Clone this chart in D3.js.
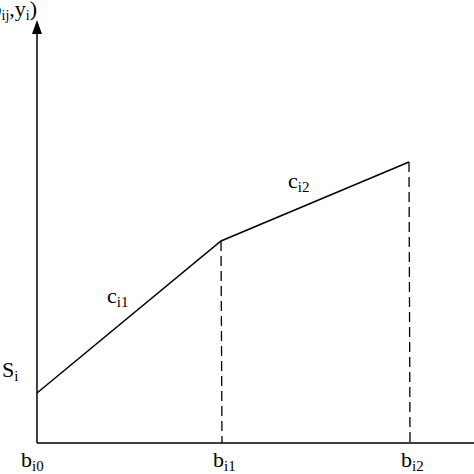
<!DOCTYPE html>
<html>
<head>
<meta charset="utf-8">
<script src="https://cdn.jsdelivr.net/npm/d3@7"></script>
<style>
  body { margin: 0; background: #fff; }
  text { font-family: "Liberation Serif", "Times New Roman", serif; fill: #000; }
</style>
</head>
<body>
<div id="chart"></div>
<script>
// breakpoints (b_i0, b_i1, b_i2) and cumulative values at them
var breaks = [0, 184, 372];
var values = [50, 202, 281];
var breakLabels = ["i0", "i1", "i2"];
var slopeLabels = ["i1", "i2"];

var width = 474, height = 474;
var margin = { top: 20, right: 0, bottom: 31, left: 37 };

var svg = d3.select("#chart")
    .append("svg")
    .attr("width", width)
    .attr("height", height);

var x = d3.scaleLinear()
    .domain([0, width - margin.left - margin.right])
    .range([margin.left, width - margin.right]);

var y = d3.scaleLinear()
    .domain([0, height - margin.top - margin.bottom])
    .range([height - margin.bottom, margin.top]);

// axes
svg.append("line")
    .attr("x1", x(0)).attr("y1", y(0))
    .attr("x2", width).attr("y2", y(0))
    .attr("stroke", "#000").attr("stroke-width", 1.5);

svg.append("line")
    .attr("x1", x(0)).attr("y1", y(0))
    .attr("x2", x(0)).attr("y2", y.range()[1] + 10)
    .attr("stroke", "#000").attr("stroke-width", 1.5);

// arrow head on the y axis
svg.append("path")
    .attr("d", "M" + (x(0) - 5) + "," + (y.range()[1] + 14) +
        " L" + x(0) + "," + y.range()[1] +
        " L" + (x(0) + 5) + "," + (y.range()[1] + 14) + " Z")
    .attr("fill", "#000");

// dashed drop lines
svg.selectAll("line.drop")
    .data(d3.range(1, breaks.length))
    .join("line")
    .attr("class", "drop")
    .attr("x1", i => x(breaks[i]))
    .attr("y1", i => y(values[i]))
    .attr("x2", i => x(breaks[i]) + 1)
    .attr("y2", y(0))
    .attr("stroke", "#000")
    .attr("stroke-width", 1.3)
    .attr("stroke-dasharray", "10,5");

// piecewise linear cost line
var line = d3.line()
    .x(i => x(breaks[i]))
    .y(i => y(values[i]));

svg.append("path")
    .datum(d3.range(breaks.length))
    .attr("d", line)
    .attr("fill", "none")
    .attr("stroke", "#000")
    .attr("stroke-width", 1.5);

// helper for text with subscript
function subText(g, px, py, main, sub, size) {
    var t = g.append("text")
        .attr("x", px).attr("y", py)
        .attr("font-size", size);
    t.append("tspan").text(main);
    t.append("tspan").text(sub)
        .attr("font-size", size * 0.68)
        .attr("dy", size * 0.2);
    return t;
}

// break labels under the x axis
breaks.forEach(function (b, i) {
    subText(svg, x(b) - 8 + (i === 0 ? -8 : 0), 467, "b", breakLabels[i], 22);
});

// slope labels
subText(svg, 107, 303, "c", slopeLabels[0], 22);
subText(svg, 288, 188, "c", slopeLabels[1], 22);

// intercept label
subText(svg, 2, 377, "S", "i", 22);

// y axis title (cut at the left edge)
var yt = svg.append("text")
    .attr("x", 37).attr("y", 16)
    .attr("font-size", 22)
    .attr("text-anchor", "end");
yt.append("tspan").text("(b");
yt.append("tspan").text("ij").attr("font-size", 14).attr("dy", 4);
yt.append("tspan").text(",y").attr("dy", -4);
yt.append("tspan").text("i").attr("font-size", 14).attr("dy", 4);
yt.append("tspan").text(")").attr("dy", -4);
</script>
</body>
</html>
